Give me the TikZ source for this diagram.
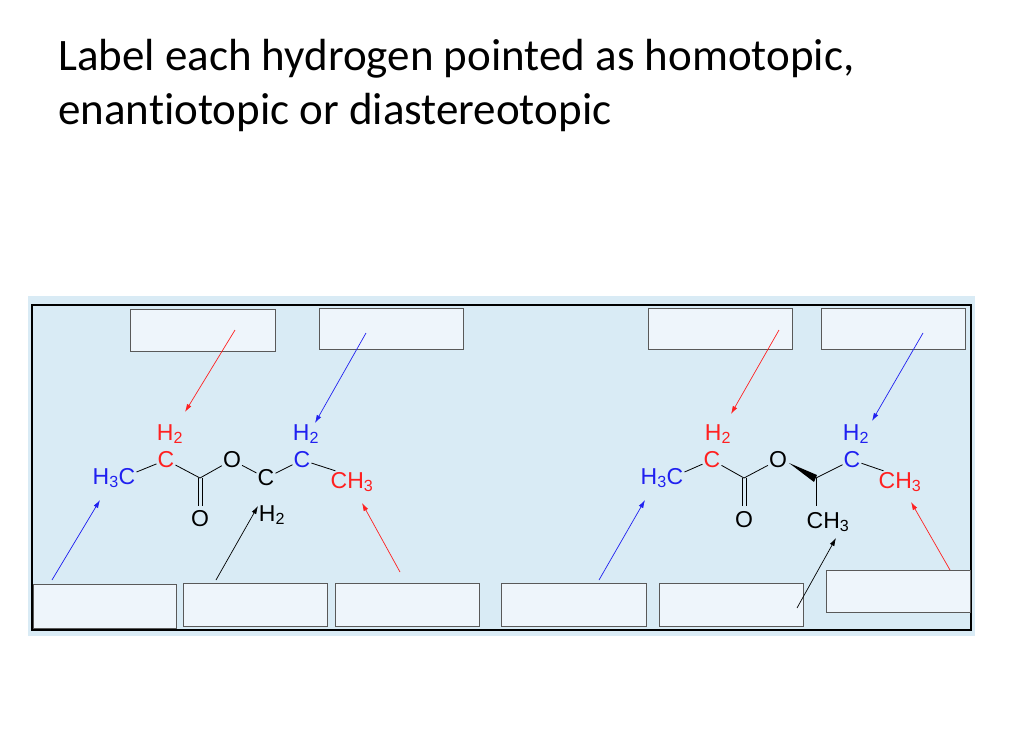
\documentclass[tikz,border=0pt]{standalone}
\usepackage{fontspec}
\usetikzlibrary{arrows.meta}
\setmainfont{Liberation Sans}
\newfontfamily\titlefont[Ligatures=NoCommon]{Carlito}
\definecolor{panel}{HTML}{D9EBF5}
\definecolor{boxfill}{HTML}{EEF5FB}
\definecolor{chred}{HTML}{FF2020}
\definecolor{chblue}{HTML}{2020F0}
\begin{document}
\begin{tikzpicture}[x=1pt,y=-1pt,
  ansbox/.style={draw=gray!70!black,fill=boxfill,line width=0.8pt},
  atom/.style={font=\fontsize{23}{23}\selectfont,inner sep=1pt},
  bond/.style={line width=0.8pt,shorten >=0pt,shorten <=0pt},
  ptr/.style={-{Latex[length=8pt,width=5pt]},line width=0.7pt}]
\useasboundingbox (0,0) rectangle (1024,750);
\node[anchor=base west,inner sep=0,font=\titlefont\fontsize{45}{45}\selectfont] (t1) at (58,70) {Label each hydrogen pointed as homotopic,};
\node[anchor=base west,inner sep=0,font=\titlefont\fontsize{45}{45}\selectfont] (t2) at (58,124) {enantiotopic or diastereotopic};
\fill[panel] (28,296) rectangle (975,636);
\draw[line width=1.4pt] (32,305) rectangle (971,630);
% boxes
\draw[ansbox] (130,309) rectangle (275,351);
\draw[ansbox] (319,308) rectangle (463,349);
\draw[ansbox] (648,308) rectangle (792,349);
\draw[ansbox] (821,308) rectangle (965,349);
\draw[ansbox] (33,584) rectangle (176,628);
\draw[ansbox] (183,583) rectangle (327,626);
\draw[ansbox] (335,583) rectangle (479,626);
\draw[ansbox] (501,583) rectangle (646,626);
\draw[ansbox] (659,583) rectangle (803,626);
\draw[ansbox] (826,570) rectangle (970,612);
% left molecule
\node[atom,text=chblue] (a1) at (114,478) {H\textsubscript{3}C};
\node[atom,text=chred] (a2) at (166,460) {C};
\node[atom,text=chred] (a2h) at (170,434) {H\textsubscript{2}};
\coordinate (a3) at (200,478);
\node[atom] (a3o) at (200,519) {O};
\node[atom] (a4) at (232,460) {O};
\node[atom] (a5) at (266,478) {C};
\node[atom] (a5h) at (272,515) {H\textsubscript{2}};
\node[atom,text=chblue] (a6) at (302,460) {C};
\node[atom,text=chblue] (a6h) at (306,434) {H\textsubscript{2}};
\node[atom,text=chred] (a7) at (352,482) {CH\textsubscript{3}};
\draw[bond] ([yshift=6pt]a1.east) -- (a2);
\draw[bond] (a2) -- (a3);
\draw[bond] (a3) -- (a4);
\draw[bond] (a4) -- (a5);
\draw[bond] (a5) -- (a6);
\draw[bond] (a6) -- ([xshift=6pt]a7.north west);
\draw[line width=0.8pt] (198,478) -- (198,506) (202,478) -- (202,506);
% right molecule
\node[atom,text=chblue] (b1) at (662,478) {H\textsubscript{3}C};
\node[atom,text=chred] (b2) at (712,460) {C};
\node[atom,text=chred] (b2h) at (718,434) {H\textsubscript{2}};
\coordinate (b3) at (744,478);
\node[atom] (b3o) at (744,520) {O};
\node[atom] (b4) at (778,460) {O};
\coordinate (b5) at (816,478);
\node[atom] (b5m) at (828,522) {CH\textsubscript{3}};
\node[atom,text=chblue] (b6) at (852,460) {C};
\node[atom,text=chblue] (b6h) at (856,434) {H\textsubscript{2}};
\node[atom,text=chred] (b7) at (900,482) {CH\textsubscript{3}};
\draw[bond] ([yshift=6pt]b1.east) -- (b2);
\draw[bond] (b2) -- (b3);
\draw[bond] (b3) -- (b4);
\fill (789,463) -- (817,475) -- (814,482) -- cycle;
\draw[bond] (b5) -- (b6);
\draw[bond] (b5) -- (816,506);
\draw[bond] (b6) -- ([xshift=6pt]b7.north west);
\draw[line width=0.8pt] (742,478) -- (742,506) (746,478) -- (746,506);
% pointers
\draw[ptr,chred] (235,330) -- (185,412);
\draw[ptr,chblue] (366,333) -- (315,423);
\draw[ptr,chblue] (52,580) -- (100,500);
\draw[ptr,black] (216,580) -- (258,506);
\draw[ptr,chred] (400,572) -- (362,503);
\draw[ptr,chred] (779,330) -- (731,414);
\draw[ptr,chblue] (923,333) -- (872,421);
\draw[ptr,chblue] (599,580) -- (645,500);
\draw[ptr,black] (797,608) -- (836,538);
\draw[ptr,chred] (950,570) -- (911,502);
\end{tikzpicture}
\end{document}
